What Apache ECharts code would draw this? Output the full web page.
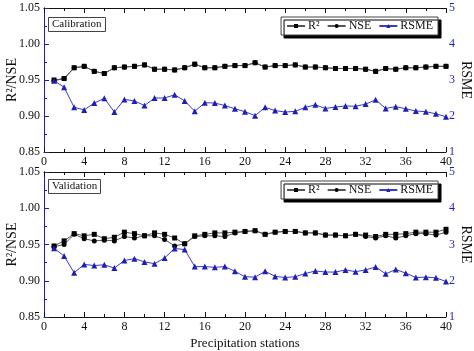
<!DOCTYPE html>
<html>
<head>
<meta charset="utf-8">
<script src="https://cdn.jsdelivr.net/npm/echarts@6/dist/echarts.min.js"></script>
<style>
    html, body {margin: 0; padding: 0; background: #fff;}
    #chart-main {width: 474px; height: 351px;}
</style>
</head>
<body>
<div id="chart-main"></div>
<script>
    // station numbers 1..40
    var stations = [];
    for (var i = 1; i <= 40; i++) stations.push(i);

    // calibration
    var calR2 = [0.950, 0.952, 0.967, 0.969, 0.962, 0.959, 0.967, 0.968, 0.969, 0.971,
                 0.965, 0.965, 0.964, 0.967, 0.972, 0.967, 0.967, 0.969, 0.970, 0.970,
                 0.974, 0.968, 0.970, 0.970, 0.971, 0.968, 0.968, 0.967, 0.966, 0.966,
                 0.966, 0.965, 0.962, 0.966, 0.965, 0.967, 0.967, 0.968, 0.969, 0.969];
    var calNSE = [0.949, 0.952, 0.967, 0.969, 0.962, 0.959, 0.967, 0.968, 0.969, 0.971,
                  0.965, 0.965, 0.964, 0.967, 0.972, 0.967, 0.967, 0.969, 0.970, 0.970,
                  0.974, 0.968, 0.970, 0.970, 0.971, 0.968, 0.968, 0.967, 0.966, 0.966,
                  0.966, 0.965, 0.962, 0.966, 0.965, 0.967, 0.967, 0.968, 0.969, 0.969];
    var calRSME = [2.98, 2.80, 2.24, 2.17, 2.36, 2.49, 2.11, 2.46, 2.42, 2.29,
                   2.50, 2.50, 2.59, 2.42, 2.13, 2.37, 2.36, 2.29, 2.20, 2.12,
                   2.01, 2.24, 2.15, 2.11, 2.13, 2.24, 2.31, 2.21, 2.25, 2.28,
                   2.27, 2.33, 2.45, 2.21, 2.26, 2.20, 2.14, 2.12, 2.06, 1.98];

    // validation
    var valR2 = [0.948, 0.955, 0.965, 0.962, 0.964, 0.958, 0.960, 0.967, 0.965, 0.962,
                 0.966, 0.964, 0.959, 0.951, 0.962, 0.964, 0.966, 0.966, 0.967, 0.968,
                 0.969, 0.964, 0.967, 0.968, 0.968, 0.966, 0.966, 0.963, 0.963, 0.962,
                 0.964, 0.963, 0.961, 0.964, 0.964, 0.965, 0.967, 0.967, 0.967, 0.971];
    var valNSE = [0.947, 0.950, 0.964, 0.958, 0.955, 0.956, 0.955, 0.961, 0.959, 0.962,
                  0.962, 0.957, 0.948, 0.951, 0.961, 0.962, 0.962, 0.961, 0.966, 0.968,
                  0.969, 0.964, 0.967, 0.968, 0.968, 0.966, 0.966, 0.963, 0.963, 0.962,
                  0.964, 0.961, 0.959, 0.962, 0.959, 0.962, 0.965, 0.965, 0.963, 0.967];
    var valRSME = [2.90, 2.68, 2.22, 2.45, 2.42, 2.44, 2.35, 2.56, 2.61, 2.52,
                   2.47, 2.63, 2.89, 2.86, 2.39, 2.39, 2.37, 2.39, 2.26, 2.11,
                   2.10, 2.26, 2.12, 2.09, 2.11, 2.20, 2.27, 2.24, 2.24, 2.30,
                   2.25, 2.30, 2.38, 2.19, 2.31, 2.21, 2.09, 2.10, 2.08, 1.98];

    var FONT = '"Liberation Serif", "DejaVu Serif", serif';
    var BLUE = '#1f1fb4';

    function pairs(ys) {
        return ys.map(function (v, i) { return [stations[i], v]; });
    }

    var grids = [
        {left: 44, right: 28, top: 8, height: 144, outerBoundsMode: 'none'},
        {left: 44, right: 28, top: 172, height: 145, outerBoundsMode: 'none'}
    ];

    var panels = [
        {r2: calR2, nse: calNSE, rsme: calRSME},
        {r2: valR2, nse: valNSE, rsme: valRSME}
    ];

    var xAxes = [], yAxes = [], series = [];

    panels.forEach(function (p, g) {
        xAxes.push({
            type: 'value', gridIndex: g, min: 0, max: 40, interval: 4,
            position: 'bottom',
            name: g === 1 ? 'Precipitation stations' : '',
            nameLocation: 'middle', nameGap: 20,
            nameTextStyle: {fontFamily: FONT, fontSize: 13, color: '#111'},
            axisLine: {lineStyle: {color: '#111', width: 1}},
            axisTick: {inside: true, length: 5, lineStyle: {color: '#111'}},
            minorTick: {show: true, splitNumber: 2, length: 3, lineStyle: {color: '#111'}},
            axisLabel: {fontFamily: FONT, fontSize: 12, color: '#111', margin: 4},
            splitLine: {show: false}
        });
        xAxes.push({
            type: 'value', gridIndex: g, min: 0, max: 40, interval: 4,
            position: 'top',
            axisLine: {lineStyle: {color: '#111', width: 1}},
            axisTick: {inside: true, length: 5, lineStyle: {color: '#111'}},
            minorTick: {show: true, splitNumber: 2, length: 3, lineStyle: {color: '#111'}},
            axisLabel: {show: false},
            splitLine: {show: false}
        });
        yAxes.push({
            type: 'value', gridIndex: g, min: 0.85, max: 1.05, interval: 0.05,
            position: 'left',
            name: 'R²/NSE', nameLocation: 'middle', nameGap: 25, nameMoveOverlap: false,
            nameTextStyle: {fontFamily: FONT, fontSize: 14, color: '#111'},
            axisLine: {show: true, lineStyle: {color: '#111', width: 1}},
            axisTick: {inside: true, length: 5, lineStyle: {color: '#111'}},
            minorTick: {show: true, splitNumber: 2, length: 3, lineStyle: {color: '#111'}},
            axisLabel: {fontFamily: FONT, fontSize: 12, color: '#111', margin: 4,
                formatter: function (v) { return v.toFixed(2); }},
            splitLine: {show: false}
        });
        yAxes.push({
            type: 'value', gridIndex: g, min: 1, max: 5, interval: 1,
            position: 'right',
            name: 'RSME', nameLocation: 'middle', nameGap: 13, nameRotate: -90, nameMoveOverlap: false,
            nameTextStyle: {fontFamily: FONT, fontSize: 14, color: '#111'},
            axisLine: {show: true, lineStyle: {color: BLUE, width: 1}},
            axisTick: {inside: false, length: 5, lineStyle: {color: BLUE}},
            minorTick: {show: true, splitNumber: 2, length: 3, lineStyle: {color: BLUE}},
            axisLabel: {fontFamily: FONT, fontSize: 12, color: BLUE, margin: 3},
            splitLine: {show: false}
        });

        series.push({
            name: 'R²', type: 'line', xAxisIndex: g * 2, yAxisIndex: g * 2,
            data: pairs(p.r2), symbol: 'rect', symbolSize: 5,
            itemStyle: {color: '#000'}, lineStyle: {color: '#555', width: 1}
        });
        series.push({
            name: 'NSE', type: 'line', xAxisIndex: g * 2, yAxisIndex: g * 2,
            data: pairs(p.nse), symbol: 'circle', symbolSize: 5,
            itemStyle: {color: '#000'}, lineStyle: {color: '#555', width: 1}
        });
        series.push({
            name: 'RSME', type: 'line', xAxisIndex: g * 2, yAxisIndex: g * 2 + 1,
            data: pairs(p.rsme), symbol: 'triangle', symbolSize: 6,
            itemStyle: {color: BLUE}, lineStyle: {color: '#3a3ad0', width: 1}
        });
    });

    var legendBase = {
        data: ['R²', 'NSE', 'RSME'],
        right: 36, itemWidth: 18, itemHeight: 5, itemGap: 7,
        padding: [3, 5], backgroundColor: '#fff',
        borderColor: '#444', borderWidth: 1,
        shadowColor: '#000', shadowBlur: 0, shadowOffsetX: 3, shadowOffsetY: 3,
        textStyle: {fontFamily: FONT, fontSize: 12, color: '#111', padding: [0, 0, 0, -2]}
    };

    var titleBase = {
        padding: [2, 4], borderColor: '#444', borderWidth: 1, backgroundColor: '#fff',
        textStyle: {fontFamily: FONT, fontSize: 11, fontWeight: 'normal', color: '#111'}
    };

    var option = {
        animation: false,
        backgroundColor: '#fff',
        grid: grids,
        title: [
            Object.assign({}, titleBase, {text: 'Calibration', left: 48, top: 17}),
            Object.assign({}, titleBase, {text: 'Validation', left: 48, top: 179})
        ],
        legend: [
            Object.assign({}, legendBase, {top: 17}),
            Object.assign({}, legendBase, {top: 181})
        ],
        xAxis: xAxes,
        yAxis: yAxes,
        series: series
    };

    var myChart = echarts.init(document.getElementById('chart-main'));
    myChart.setOption(option);
</script>
</body>
</html>
